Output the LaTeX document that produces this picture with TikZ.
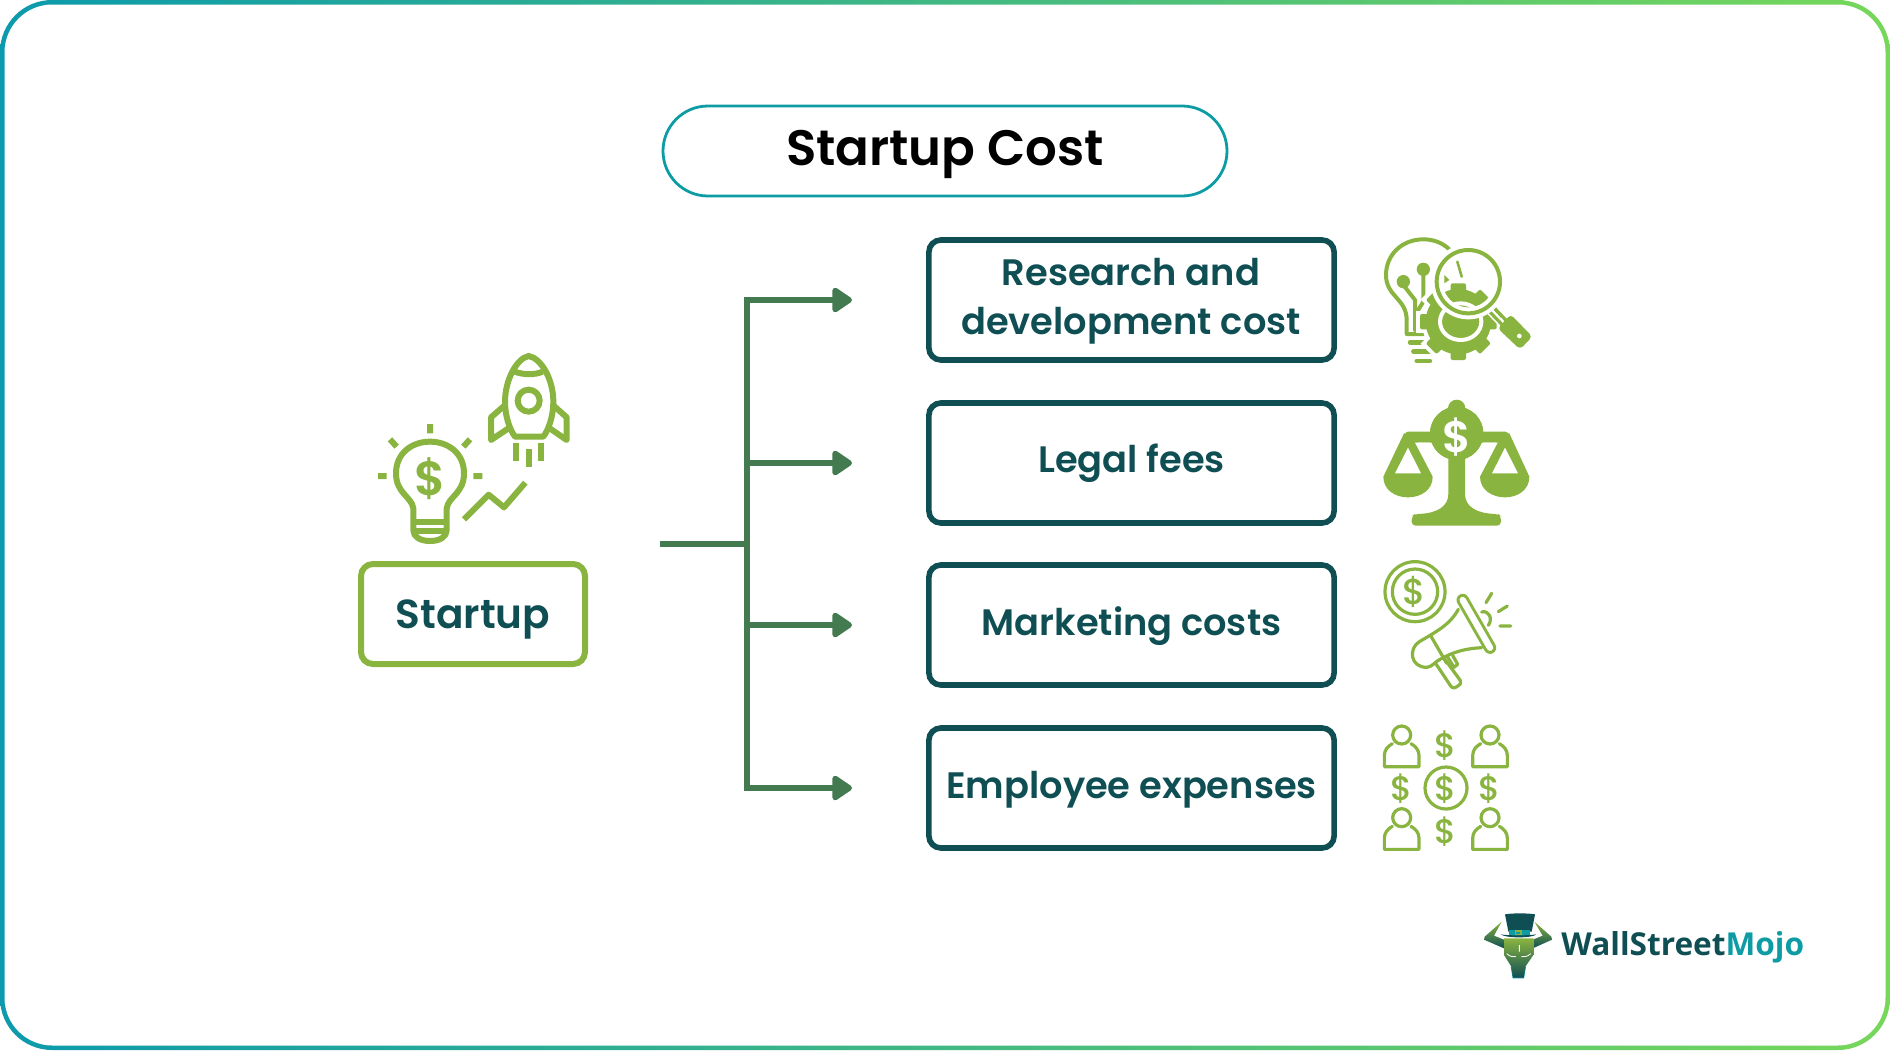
\documentclass[tikz,border=0pt]{standalone}
\usepackage{fontspec}
\usetikzlibrary{arrows.meta,shapes.geometric}
\setmainfont{Poppins}
\newfontfamily\psb{Poppins}[UprightFont=* SemiBold]
\newfontfamily\pmd{Poppins}[UprightFont=* Medium]
\newfontfamily\logof{Open Sans}[UprightFont=* Bold]
\definecolor{gr}{HTML}{8AB440}
\definecolor{dk}{HTML}{0F4F54}
\definecolor{tl}{HTML}{0E9CA4}
\definecolor{cn}{HTML}{437A50}
\definecolor{fa}{HTML}{0C9AAC}
\definecolor{fb}{HTML}{40B685}
\definecolor{fc}{HTML}{76D75A}
\newcommand{\lowr}[2]{\raisebox{-#1}[0pt][0pt]{#2}}
\tikzset{
 zoomed/.style={x=0.16667pt,y=-0.16667pt},
 costbox/.style={draw=dk,line width=2.8pt,rounded corners=6pt,minimum width=202.6pt,minimum height=60pt,inner sep=0pt,align=center,text=dk,font=\psb\fontsize{18.4}{24.2}\selectfont},
 costtext/.style={inner sep=0pt,align=center,text=dk,font=\psb\fontsize{18.4}{24.6}\selectfont},
 startbox/.style={draw=gr,line width=3pt,rounded corners=6pt,minimum width=112pt,minimum height=50pt,inner sep=0pt,text=dk,font=\psb\fontsize{20.3}{24}\selectfont},
 titlebox/.style={draw=tl,line width=1.4pt,rounded corners=22.5pt,minimum width=282pt,minimum height=45pt,inner sep=0pt},
 conn/.style={draw=cn,line width=3pt},
 arr/.style={conn,-{Triangle[length=11pt,width=14pt,round]}},
 ic/.style={draw=gr,line width=3pt,line join=round},
 icb/.style={draw=gr,line width=1.6pt,line join=round,line cap=round},
 dol/.style={text=gr,inner sep=0pt,font=\psb\fontsize{14}{14}\selectfont},
}
\begin{document}
\begin{tikzpicture}[x=0.5pt,y=-0.5pt]
\useasboundingbox (0,0) rectangle (1890,1050);
% frame
\shade[left color=fa,middle color=fb,right color=fc,rounded corners=26pt] (0,0) rectangle (1890,1050);
\fill[white,rounded corners=24pt] (4.5,4.5) rectangle (1885.5,1045.5);
% nodes
\node[titlebox] (title) at (945,151) {};
\node[text=black,inner sep=0pt,font=\psb\fontsize{24.9}{30}\selectfont] (titletext) at (945,154) {Startup Cost};
\node[costbox] (c1) at (1131.5,300) {};
\node[costtext] (c1t) at (1131,301.5) {Research and\\development cost};
\node[costbox] (c2) at (1131.5,463) {\lowr{4.6pt}{Legal fees}};
\node[costbox] (c3) at (1131.5,625) {\lowr{5pt}{Marketing costs}};
\node[costbox] (c4) at (1131.5,788) {\lowr{5pt}{Employee expenses}};
\node[startbox] (start) at (473,614) {\lowr{7.2pt}{Startup}};
% connectors
\coordinate (src) at (660,544);
\coordinate (jn) at (747,544);
\coordinate (t1) at (747,300);
\coordinate (t2) at (747,463);
\coordinate (t3) at (747,625);
\coordinate (t4) at (747,788);
\coordinate (h1) at (852,300);
\coordinate (h2) at (852,463);
\coordinate (h3) at (852,625);
\coordinate (h4) at (852,788);
\draw[conn] (src) -- (jn);
\draw[conn] (t1) -- (t4);
\draw[arr] ([xshift=-1.5pt]t1) -- (h1);
\draw[arr] (t2) -- (h2);
\draw[arr] (t3) -- (h3);
\draw[arr] ([xshift=-1.5pt]t4) -- (h4);
% startup icon
\begin{scope}[shift={(340,330)},zoomed]
\draw[ic] (566,78) .. controls (530,85) and (495,150) .. (495,215) .. controls (495,260) and (510,300) .. (525,320) -- (610,320) .. controls (625,300) and (640,260) .. (640,215) .. controls (640,150) and (605,85) .. (566,78) -- cycle;
\draw[ic] (525,125) .. controls (550,135) and (585,135) .. (608,125);
\draw[ic] (566,212) circle (33);
\draw[ic] (492,228) -- (453,262) -- (453,330) -- (510,292);
\draw[ic] (642,228) -- (680,262) -- (680,330) -- (625,292);
\draw[ic] (528,338) -- (528,392) (566,358) -- (566,411) (602,338) -- (602,392);
\draw[ic] (220,575) -- (220,535) .. controls (215,500) and (168,490) .. (168,430) .. controls (168,370) and (215,335) .. (270,335) .. controls (325,335) and (372,370) .. (372,430) .. controls (372,490) and (325,500) .. (320,535) -- (320,600) .. controls (320,620) and (300,633) .. (270,633) .. controls (240,633) and (220,620) .. (220,600) -- cycle;
\draw[ic] (220,575) -- (320,575) (225,604) -- (315,604);
\draw[ic] (270,282) -- (270,310) (150,328) -- (170,350) (390,328) -- (370,350) (114,438) -- (140,438) (400,438) -- (427,438);
\draw[ic] (372,568) -- (446,494) -- (492,532) -- (556,458);
\node[dol,font=\psb\fontsize{24}{24}\selectfont] (d0) at (270,447) {\$};
\end{scope}
% research icon
\begin{scope}[shift={(1360,220)},zoomed]
\draw[icb,line width=2pt] (270,90) .. controls (245,65) and (215,58) .. (190,58) .. controls (125,58) and (78,105) .. (78,165) .. controls (78,230) and (140,235) .. (140,300) -- (140,342) -- (190,342);
\fill[gr] (130,185) circle (20) (190,148) circle (20);
\draw[icb,line width=2pt] (130,195) -- (165,240) -- (165,330);
\draw[icb,line width=2pt] (190,160) -- (190,245) -- (165,285);
\draw[icb,line width=2.2pt] (150,367) -- (190,367) (160,395) -- (210,395) (170,423) -- (210,423);
\fill[white] (325,185) circle (100);
\foreach \a in {0,45,...,315} \fill[white,rotate around={\a:(295,305)}] (262,178) rectangle (328,240);
\fill[white] (295,305) circle (110);
\foreach \a in {0,45,...,315} \fill[gr,rotate around={\a:(295,305)},rounded corners=1pt] (272,190) rectangle (318,240);
\fill[gr] (295,305) circle (98);
\draw[white,line width=2pt] (302,305) ellipse [x radius=62,y radius=55];
\draw[white,line width=7pt,line cap=butt] (395,265) -- (440,312);
\draw[icb,line width=1.6pt,line cap=butt] (393,255) -- (445,308) (382,268) -- (432,320);
\fill[white] (385,254) -- (395,248) -- (410,262) -- (395,272) -- cycle;
\draw[icb,line width=1.6pt,line cap=butt] (402,262) -- (426,290);
\draw[white,line width=6pt] (325,185) circle (95);
\draw[icb,line width=2pt] (325,185) circle (95);
\draw[icb,line width=1.3pt] (292,125) -- (305,170);
\fill[gr] (253,165) -- (268,180) -- (253,190) -- cycle;
\fill[gr,rounded corners=2pt] (452,283) -- (517,350) -- (480,388) -- (413,325) -- cycle;
\fill[white] (478,348) circle (7);
\end{scope}
% scales icon
\begin{scope}[shift={(1360,220)},zoomed]
\fill[gr] (290,640) circle (80) (290,565) circle (26);
\fill[gr,rounded corners=1.5pt] (135,635) rectangle (445,668);
\fill[gr] (132,640) -- (70,770) .. controls (70,810) and (105,832) .. (144,832) .. controls (183,832) and (218,810) .. (218,770) -- (150,640) -- cycle;
\fill[white] (144,683) -- (105,760) -- (183,760) -- cycle;
\fill[white] (172,668) -- (210,668) -- (240,720) -- (218,760) -- cycle;
\fill[gr] (448,640) -- (508,770) .. controls (508,810) and (473,832) .. (435,832) .. controls (397,832) and (360,810) .. (360,770) -- (428,640) -- cycle;
\fill[white] (435,683) -- (396,760) -- (474,760) -- cycle;
\fill[white] (408,668) -- (370,668) -- (340,720) -- (360,760) -- cycle;
\fill[gr] (290,640) circle (80);
\fill[gr,rounded corners=2pt] (265,700) -- (265,810) .. controls (265,860) and (230,880) .. (165,882) -- (155,888) -- (155,917) -- (423,917) -- (423,888) -- (415,882) .. controls (350,880) and (315,860) .. (315,810) -- (315,700) -- cycle;
\node[dol,text=white,font=\psb\fontsize{22}{22}\selectfont] (d1) at (290,652) {\$};
\end{scope}
% marketing icon
\begin{scope}[shift={(1360,550)},zoomed]
\draw[icb] (165,125) circle (90) (165,125) circle (68);
\node[dol,font=\pmd\fontsize{18}{18}\selectfont] (d2) at (164,126) {\$};
\draw[icb] (295,178) .. controls (275,215) and (245,235) .. (212,255) -- (178,275) .. controls (145,295) and (150,352) .. (200,352) .. controls (215,352) and (225,335) .. (240,328) .. controls (280,305) and (320,295) .. (365,293);
\draw[icb] (212,257) -- (260,340);
\draw[icb] (228,342) -- (272,408) .. controls (278,416) and (285,416) .. (300,403) .. controls (303,398) and (302,395) .. (300,390) -- (250,322);
\draw[icb] (262,320) -- (282,352) -- (293,343) -- (278,316);
\draw[icb] (365,186) .. controls (385,180) and (400,205) .. (385,226);
\draw[draw=gr,line width=6.2pt,line cap=round] (308,150) -- (390,293);
\draw[draw=white,line width=3.2pt,line cap=round] (308,150) -- (390,293);
\draw[icb] (378,158) -- (395,130) (415,185) -- (442,168) (420,228) -- (452,228);
\end{scope}
% employee icon
\begin{scope}[shift={(1360,550)},zoomed]
\foreach \px/\py in {125/555,390/555,125/803,390/803}{
 \draw[icb] (\px,\py) circle (27);
 \draw[icb] (\px-28,\py+26) .. controls (\px-42,\py+34) and (\px-52,\py+45) .. (\px-52,\py+62) -- (\px-52,\py+95) -- (\px+52,\py+95) -- (\px+52,\py+62) .. controls (\px+52,\py+45) and (\px+42,\py+34) .. (\px+28,\py+26);
}
\draw[icb] (258,714) circle (63);
\foreach \qx/\qy in {258/586,126/715,390/715,258/715,258/846}
 \node[dol,font=\pmd\fontsize{17}{17}\selectfont] at (\qx,\qy) {\$};
\end{scope}
% logo
\begin{scope}[shift={(1480,905)},zoomed]
\shade[top color=gr,bottom color=dk] (65,50) -- (14,95) -- (12,104) -- (72,130) -- (72,104) -- (42,92) -- cycle;
\shade[top color=gr,bottom color=dk] (163,50) -- (214,95) -- (216,104) -- (158,130) -- (158,104) -- (188,92) -- cycle;
\fill[tl] (92,185) -- (98,220) -- (132,220) -- (138,185) -- cycle;
\shade[top color=gr,middle color=gr!85!dk,bottom color=dk] (72,100) -- (160,100) -- (160,150) -- (136,185) -- (131,218) -- (99,218) -- (94,185) -- (72,150) -- cycle;
\fill[dk] (75,28) .. controls (100,24) and (140,24) .. (165,28) -- (155,80) -- (85,80) -- cycle;
\fill[tl] (88,75) rectangle (150,92);
\fill[gr] (105,76) rectangle (125,90);
\fill[tl] (109,80) rectangle (121,86);
\fill[dk] (62,88) .. controls (80,92) and (150,92) .. (168,88) .. controls (160,100) and (75,100) .. (62,88) -- cycle;
\draw[white,line width=0.4pt] (118,120) -- (118,140) (80,146) .. controls (90,155) and (98,156) .. (108,155) (152,146) .. controls (142,155) and (134,156) .. (124,155);
\end{scope}
\begin{scope}[shift={(1460,890)},zoomed]
\node[anchor=base west,inner sep=0pt,text=dk,font=\logof\fontsize{15.8}{17}\selectfont] (wsm) at (303,195) {WallStreet\textcolor{tl}{Mojo}};
\end{scope}
\end{tikzpicture}
\end{document}
